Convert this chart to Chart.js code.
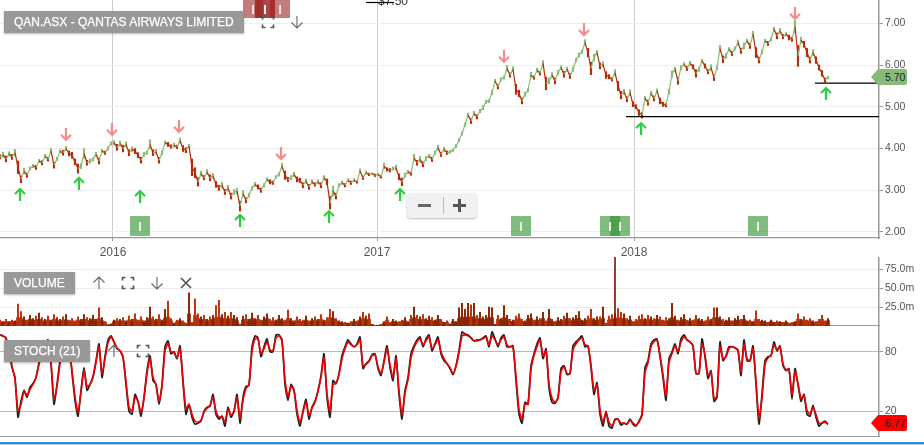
<!DOCTYPE html>
<html><head><meta charset="utf-8">
<script src="https://cdn.jsdelivr.net/npm/chart.js@4"></script>
<style>
html,body{margin:0;padding:0;background:#fff;width:924px;height:445px;overflow:hidden;font-family:"Liberation Sans",Arial,sans-serif}
.cv{position:absolute;left:0}
.pill{position:absolute;left:4px;height:22px;line-height:22px;background:#999;color:#fff;font-size:12px;font-weight:400;padding-left:10px;box-shadow:0 1px 2px rgba(0,0,0,.3);white-space:nowrap;-webkit-text-stroke:.25px #fff}
.tag{position:absolute;left:871px;width:36px;height:16px;line-height:16px;font-size:10.5px;color:#222;text-indent:14px;clip-path:polygon(0 50%,7px 0,100% 0,100% 100%,7px 100%);border-radius:2px}
.ic{position:absolute;overflow:visible}
</style></head><body>
<canvas id="priceCv" class="cv" style="top:0" width="924" height="258"></canvas>
<canvas id="volCv" class="cv" style="top:257px" width="924" height="69"></canvas>
<canvas id="stochCv" class="cv" style="top:325px" width="924" height="112"></canvas>

<div class="pill" style="top:11px;width:230px">QAN.ASX - QANTAS AIRWAYS LIMITED</div>
<div class="pill" style="top:272px;width:61px">VOLUME</div>
<div class="pill" style="top:340px;width:76px">STOCH (21)</div>
<div class="tag" style="top:69px;background:#88bb78">5.70</div>
<div class="tag" style="top:415px;background:#ff0000">6.77</div>
<div id="zoomBox" style="position:absolute;left:407px;top:193px;width:70px;height:25px;background:#f1f1f1;border-radius:4px;box-shadow:0 1px 2px rgba(0,0,0,.25)">
  <div style="position:absolute;left:11px;top:11px;width:13px;height:3px;background:#666"></div>
  <div style="position:absolute;left:36px;top:4px;width:1px;height:17px;background:#bbb"></div>
  <div style="position:absolute;left:46px;top:11px;width:13px;height:3px;background:#555"></div>
  <div style="position:absolute;left:51px;top:6px;width:3px;height:13px;background:#555"></div>
</div>
<div style="position:absolute;left:0;top:442px;width:924px;height:1.6px;background:#2a8fdc"></div>
<div style="position:absolute;left:0;top:443.6px;width:924px;height:1.4px;background:#c2c9cf"></div>
<div id="icons"></div>

<script>
// one point every three sessions
const sessionStep = 3;
const closes = [
3.80,3.85,3.75,3.87,3.80,3.90,3.55,3.26,3.46,3.36,
3.52,3.58,3.55,3.70,3.66,3.82,3.74,3.94,3.60,3.75,
3.93,3.90,4.00,3.88,3.84,3.68,3.52,3.58,3.88,3.66,
3.70,3.74,3.86,3.70,3.94,3.90,4.00,4.12,4.14,4.03,
4.12,4.00,4.10,3.90,3.98,3.94,3.84,3.72,3.86,3.90,
4.10,3.90,3.92,3.72,3.90,4.14,4.10,4.05,4.08,4.04,
4.19,4.00,3.96,4.06,3.55,3.42,3.20,3.40,3.30,3.44,
3.30,3.34,3.14,3.06,3.12,2.96,3.05,2.86,2.96,2.98,
2.62,2.92,2.76,2.88,3.05,3.14,3.08,3.00,3.12,3.26,
3.20,3.18,3.32,3.38,3.58,3.36,3.26,3.30,3.38,3.26,
3.24,3.12,3.22,3.08,3.20,3.14,3.20,3.12,3.30,3.20,
2.70,2.98,2.86,3.12,3.18,3.12,3.24,3.18,3.24,3.20,
3.46,3.30,3.42,3.38,3.40,3.36,3.38,3.32,3.58,3.50,
3.48,3.52,3.54,3.32,3.20,3.36,3.44,3.40,3.78,3.66,
3.74,3.62,3.76,3.82,3.74,3.90,4.02,3.86,3.98,3.90,
3.92,3.96,4.06,4.20,4.36,4.57,4.80,4.66,4.84,4.76,
4.90,4.98,5.12,5.14,5.34,5.62,5.48,5.66,5.70,5.92,
5.76,5.90,5.42,5.32,5.14,5.30,5.40,5.76,5.70,5.88,
5.80,6.04,5.56,5.62,5.76,5.62,5.82,5.94,5.78,5.90,
5.74,5.90,6.12,6.24,6.32,6.54,6.30,5.92,6.18,6.30,
5.98,6.02,5.76,5.72,5.66,5.82,5.50,5.28,5.36,5.18,
5.34,5.06,5.00,4.86,4.80,5.20,5.10,5.32,5.20,5.38,
5.14,5.06,5.04,5.36,5.78,5.90,5.62,5.94,6.02,5.92,
6.04,5.96,5.80,5.90,6.10,5.98,5.84,5.94,5.70,5.94,
6.40,6.14,6.22,6.38,6.28,6.40,6.54,6.34,6.46,6.58,
6.46,6.74,6.30,6.12,6.32,6.58,6.52,6.62,6.86,6.70,
6.82,6.68,6.74,6.66,6.62,6.92,6.22,6.60,6.50,6.30,
6.12,6.30,6.12,5.94,5.80,5.64,5.70];
// height of each session's bar, in cents
const rangeCents = [
10,12,14,10,12,16,30,16,14,10,
8,8,10,8,10,8,8,12,14,8,
8,12,10,12,14,14,22,12,24,12,
10,8,10,14,8,8,8,8,10,14,
12,16,12,14,12,12,12,14,10,8,
22,14,12,14,10,8,10,8,10,8,
12,14,12,8,40,24,20,12,10,12,
14,12,14,12,14,12,14,14,12,14,
24,14,12,10,8,10,10,10,8,8,
10,8,6,8,14,20,10,10,10,12,
10,12,10,12,10,8,10,12,10,14,
30,24,14,8,8,8,8,8,8,6,
10,8,8,6,4,6,6,6,14,8,
8,8,12,14,18,10,8,8,16,12,
14,12,10,8,10,8,12,10,10,8,
8,6,8,8,8,8,10,12,10,10,
8,10,8,8,10,8,10,8,8,14,
10,12,24,16,14,10,8,14,8,10,
8,14,30,14,12,14,10,8,14,10,
12,10,8,10,8,14,20,30,16,10,
14,12,16,10,8,14,22,18,12,12,
14,12,10,14,14,10,12,10,12,10,
14,10,8,12,16,10,16,10,8,10,
10,10,18,10,8,10,10,14,14,10,
14,16,12,8,10,8,12,12,14,8,
12,14,24,14,10,8,10,8,10,14,
12,10,8,12,10,30,50,14,14,20,
14,14,16,12,14,10,6];
const volumeBase = [
6,5,6,5,6,6,11,10,8,6,
9,7,8,9,7,6,8,6,9,7,
6,8,8,6,7,5,8,6,9,7,
7,9,6,10,7,5,1,2,6,7,
6,7,5,8,6,9,6,8,5,7,
10,8,6,9,6,10,12,7,3,6,
7,5,3,16,4,14,10,8,9,6,
8,9,11,12,10,10,9,10,9,7,
2,8,9,6,10,7,9,6,8,10,
6,7,6,9,7,6,10,7,5,8,
6,6,8,5,7,8,6,9,6,7,
11,10,7,5,4,4,3,4,6,5,
8,10,8,9,2,1,1,2,4,8,
4,6,5,4,6,7,4,9,11,9,
8,9,7,8,7,6,9,6,4,5,
2,6,4,10,12,11,12,12,12,9,
10,8,9,11,11,2,9,7,11,9,
6,6,8,10,6,5,9,10,6,8,
7,10,5,10,6,5,7,6,8,10,
7,7,9,10,6,7,8,10,7,8,
8,10,3,8,9,10,11,10,10,7,
8,5,6,8,9,7,9,8,7,9,
8,6,7,7,11,8,6,7,9,6,
7,6,9,7,6,5,8,6,11,11,
8,6,6,7,5,7,8,6,9,5,
6,5,9,6,6,5,4,6,4,5,
5,4,5,3,4,5,9,6,8,6,
7,5,4,6,9,5,7];
const volumePeaks = [
8,6,9,6,8,7,29,19,12,8,
14,10,13,17,11,9,13,8,15,11,
9,12,15,8,10,7,12,9,15,11,
10,14,9,24,11,6,2,3,8,10,
9,11,7,13,9,16,8,12,7,11,
25,12,9,15,8,22,33,10,4,8,
10,7,4,44,5,36,16,12,14,9,
12,14,27,34,15,18,13,18,14,11,
3,13,15,9,17,10,14,8,12,16,
9,11,8,14,10,8,21,10,7,12,
9,8,13,7,10,12,9,15,8,11,
22,19,10,7,6,5,4,6,9,7,
12,18,13,16,2,1,1,2,6,12,
5,9,7,6,8,11,6,14,25,14,
12,15,10,13,11,8,14,9,5,7,
3,9,6,24,30,22,30,28,30,14,
18,12,14,25,24,2,14,10,27,14,
9,8,13,16,9,7,14,16,8,12,
10,18,7,22,9,6,11,9,13,17,
10,11,14,19,8,10,13,22,10,12,
12,25,4,13,15,16,23,18,16,10,
13,6,9,13,15,10,14,12,10,14,
12,8,11,10,30,13,8,11,15,8,
10,8,14,10,9,7,12,9,24,24,
12,9,8,11,7,10,13,9,14,7,
8,6,20,9,8,7,5,8,5,7,
6,5,7,4,5,6,16,9,12,8,
10,7,6,9,14,7,10];
const spikeSession = [615];
const spikeVolume = [95];
const stochK = [
97,96,94,81,64,54,14,30,41,34,
44,48,54,69,81,88,92,68,27,47,
71,86,91,86,59,31,15,41,64,41,
47,55,71,88,54,75,92,96,90,83,
81,75,47,20,17,37,30,15,34,61,
76,51,47,27,47,85,91,78,80,73,
86,49,17,27,14,7,8,10,20,24,
25,37,17,12,15,5,24,14,20,37,
8,34,45,46,85,96,94,75,85,93,
80,80,97,97,92,47,31,47,41,17,
5,20,32,12,24,30,41,56,78,34,
14,51,48,58,76,85,92,88,85,88,
95,63,68,71,77,78,63,56,71,86,
64,51,76,37,12,41,54,78,86,92,
95,85,93,97,81,88,95,78,71,68,
63,57,66,81,100,98,97,94,91,92,
92,94,96,85,100,93,85,94,97,85,
85,86,51,17,8,29,27,66,78,88,
94,73,83,44,29,28,34,63,66,57,
58,86,90,93,96,85,86,64,37,49,
17,5,20,5,3,12,12,6,8,7,
12,7,5,10,17,64,71,88,92,93,
75,54,31,73,80,88,78,93,97,92,
90,86,58,58,93,75,53,61,30,34,
90,71,76,85,85,84,81,56,92,71,
71,86,47,7,37,71,75,76,90,81,
86,66,61,63,32,63,47,30,37,17,
15,26,14,5,8,10,6.77];
const stochD = [
97,96,93,83,66,52,20,27,40,36,
42,47,54,67,79,87,90,70,32,45,
68,84,89,85,61,35,19,39,61,45,
47,54,69,85,58,73,89,95,90,84,
81,74,50,24,20,34,30,19,33,58,
73,54,47,30,45,81,88,80,79,74,
83,52,22,27,17,10,9,11,19,23,
26,34,20,14,15,9,22,16,20,34,
13,31,43,47,80,93,93,78,83,90,
82,81,94,96,91,52,35,45,41,21,
9,19,29,16,23,29,40,54,74,38,
20,47,48,57,73,83,90,87,85,87,
92,66,67,70,76,77,65,58,69,83,
67,54,73,41,17,38,52,74,84,90,
93,87,91,95,83,87,92,80,73,68,
64,58,65,79,96,97,96,94,91,91,
92,93,95,87,96,92,87,92,95,87,
85,85,55,22,12,27,27,62,76,85,
92,76,81,48,33,29,33,60,65,58,
58,82,88,92,94,87,86,67,41,47,
22,9,19,9,5,11,12,8,8,7,
11,8,6,9,16,59,69,85,90,92,
77,57,36,69,78,86,80,90,95,92,
90,86,58,58,88,77,56,60,33,35,
85,73,75,83,85,84,82,60,87,73,
71,83,50,13,33,67,74,76,87,82,
85,68,62,62,37,60,48,33,36,21,
17,24,17,8,8,9,6.77];
const yearSessions = [113,377,634];
const yearLabels = ['2016','2017','2018'];
const priceTicks = [2,3,4,5,6,7];
const volumeTicks = [25,50,75];
const stochTicks = [20,80];
const upSessions = [20,79,140,240,329,400,641,826];
const upPrices = [2.91,3.18,2.86,2.29,2.38,2.91,4.49,5.33];
const downSessions = [66,112,179,281,504,584,795];
const downPrices = [4.33,4.45,4.52,3.87,6.20,6.84,7.23];
const supportOne = {sessions:[626,879], level:[4.765]};
const supportTwo = {sessions:[815,879], level:[5.566]};
const topLine = {sessions:[366,394], level:[7.50], label:'$7.50'};
const greenEvents = [140,521,610,620,758];
const redEvents = [253,265,265,280];

const AXIS='#999', TXT='#555', GRID='#eee', GRID2='#bbb', UP='#8cbd78', DOWN='#b92b06';
const sansFont={family:'"Liberation Sans",Arial,sans-serif',size:10};
const noPad=s=>{s.paddingLeft=s.paddingRight=s.paddingTop=s.paddingBottom=0};
function rightAxis(min,max,ticks,fmt,gridColor){
  return {position:'right',min,max,
    afterFit:s=>{s.width=45;noPad(s)},
    afterBuildTicks:s=>{s.ticks=ticks.map(v=>({value:v}))},
    border:{color:AXIS,width:1.5},
    grid:{color:gridColor,lineWidth:1,tickColor:AXIS,tickLength:4},
    ticks:{color:TXT,font:{...sansFont,size:10.5},padding:2,callback:fmt,autoSkip:false,maxRotation:0}};
}
function bottomAxis(show,h){
  return {type:'linear',min:0,max:879,offset:false,
    afterFit:s=>{s.height=h;noPad(s)},
    afterBuildTicks:s=>{s.ticks=show?yearSessions.map(v=>({value:v})):[]},
    border:{color:AXIS,width:1.2},
    grid:{display:show,offset:false,color:'#ccc',lineWidth:1,tickColor:AXIS,tickLength:3},
    ticks:{display:show,color:TXT,font:{...sansFont,size:12},padding:4,autoSkip:false,maxRotation:0,
      callback:v=>{const k=yearSessions.indexOf(v);return k>=0?yearLabels[k]:''}}};
}
function arrowImg(color,up){
  const c=document.createElement('canvas');c.width=12;c.height=14;
  const g=c.getContext('2d');g.strokeStyle=color;g.lineWidth=2.2;g.lineCap='butt';
  g.beginPath();
  if(up){g.moveTo(6,14);g.lineTo(6,2);g.moveTo(1,7);g.lineTo(6,2);g.lineTo(11,7);}
  else{g.moveTo(6,0);g.lineTo(6,12);g.moveTo(1,7);g.lineTo(6,12);g.lineTo(11,7);}
  g.stroke();return c;
}
const xy=(xs,ys)=>xs.map((x,i)=>({x,y:ys[i]}));
const series=vals=>vals.map((y,i)=>({x:i*sessionStep,y}));
const hline=o=>o.sessions.map(x=>({x,y:o.level[0]}));
const rising=i=>i>0&&closes[i]>=closes[i-1];
const base={responsive:false,animation:false,events:[],devicePixelRatio:1,
  plugins:{legend:{display:false},tooltip:{enabled:false}},layout:{padding:0,autoPadding:false}};

const eventPlugin={id:'events',afterDatasetsDraw(ch){
  const g=ch.ctx,x=ch.scales.x,y=ch.scales.y;
  g.save();
  const box=(s,top,h,col)=>{g.fillStyle=col;g.fillRect(x.getPixelForValue(s)-10,top,20,h)};
  const letter=(s,top,h)=>{g.fillStyle='rgba(255,255,255,.85)';g.font='bold 13px "Liberation Sans",Arial';g.textAlign='center';g.textBaseline='middle';g.fillText('I',x.getPixelForValue(s),top+h/2+1)};
  greenEvents.forEach(s=>box(s,216,20,'rgba(50,145,50,.62)'));
  greenEvents.forEach(s=>letter(s,216,20));
  redEvents.forEach(s=>box(s,0,18,'rgba(155,30,30,.58)'));
  redEvents.forEach(s=>letter(s,0,18));
  g.fillStyle='#333';g.font='12px "Liberation Sans",Arial';g.textAlign='left';g.textBaseline='middle';
  g.fillText(topLine.label,x.getPixelForValue(378),y.getPixelForValue(topLine.level[0])-1);
  g.restore();
}};

new Chart(document.getElementById('priceCv'),{
  type:'line',
  data:{datasets:[
    {type:'bar',data:closes.map((c,i)=>({x:i*sessionStep,y:[c-rangeCents[i]/200,c+rangeCents[i]/200]})),
     barThickness:1.5,grouped:false,order:6,
     backgroundColor:closes.map((_,i)=>rising(i)?UP:DOWN)},
    {data:series(closes),borderWidth:1.2,pointRadius:0,tension:0,order:5,
     borderColor:DOWN,
     segment:{borderColor:c=>c.p1.parsed.y>=c.p0.parsed.y?UP:DOWN}},
    {data:hline(supportOne),borderColor:'#000',borderWidth:1.2,pointRadius:0,order:3},
    {data:hline(supportTwo),borderColor:'#000',borderWidth:1.2,pointRadius:0,order:3},
    {data:hline(topLine),borderColor:'#000',borderWidth:1.2,pointRadius:0,order:3},
    {type:'scatter',data:xy(upSessions,upPrices),pointStyle:arrowImg('#2ecc40',true),pointRadius:7,order:1},
    {type:'scatter',data:xy(downSessions,downPrices),pointStyle:arrowImg('#f58a8a',false),pointRadius:7,order:1}
  ]},
  options:{...base,scales:{x:bottomAxis(true,20),y:rightAxis(1.856,7.56,priceTicks,v=>Number(v).toFixed(2),GRID)}},
  plugins:[eventPlugin]
});

new Chart(document.getElementById('volCv'),{
  type:'bar',
  data:{datasets:[
    {data:series(volumeBase),barThickness:3,grouped:false,order:3,
     backgroundColor:volumeBase.map((_,i)=>rising(i)?'#8a2400':'#a82c06')},
    {data:series(volumePeaks),barThickness:1.3,grouped:false,order:2,
     backgroundColor:volumePeaks.map((_,i)=>rising(i)?'#8a2400':'#bb3209')},
    {data:xy(spikeSession,spikeVolume),barThickness:1,grouped:false,order:1,backgroundColor:'#7a1e00'}
  ]},
  options:{...base,scales:{x:bottomAxis(false,0),y:rightAxis(0,91.5,volumeTicks,v=>Number(v).toFixed(1)+'m',GRID)}}
});

new Chart(document.getElementById('stochCv'),{
  type:'line',
  data:{datasets:[
    {data:series(stochK),borderColor:'#222',borderWidth:1.7,pointRadius:0,tension:.2,order:2},
    {data:series(stochD),borderColor:'#f00000',borderWidth:1.6,pointRadius:0,tension:.2,order:1}
  ]},
  options:{...base,clip:false,scales:{x:bottomAxis(false,0),y:rightAxis(-6,107,stochTicks,v=>String(v),GRID2)}}
});

// toolbar glyphs
const S='#666';
function arrow(cx,cy,up){const d=up?-1:1;return `<path d="M${cx} ${cy-6*d}V${cy+6*d}M${cx-5.5} ${cy+.5*d}L${cx} ${cy+6*d}L${cx+5.5} ${cy+.5*d}" fill="none" stroke="${S}" stroke-width="1.1"/>`}
function expand(cx,cy){const r=5.5,l=3;let p='';[[-1,-1],[1,-1],[-1,1],[1,1]].forEach(([a,b])=>{p+=`M${cx+a*r} ${cy+b*(r-l)}V${cy+b*r}H${cx+a*(r-l)}`});return `<path d="${p}" fill="none" stroke="#555" stroke-width="1.7"/>`}
function cross(cx,cy){const r=5;return `<path d="M${cx-r} ${cy-r}L${cx+r} ${cy+r}M${cx+r} ${cy-r}L${cx-r} ${cy+r}" fill="none" stroke="#555" stroke-width="1.7"/>`}
document.getElementById('icons').innerHTML=`<svg class="ic" style="left:0;top:0" width="924" height="445">
${expand(268,22)}${arrow(297,22,false)}
${arrow(99,283,true)}${expand(128,283)}${arrow(157,283,false)}${cross(186,283)}
${arrow(114,351,true)}${expand(143,351)}
</svg>`;
</script>
</body></html>
